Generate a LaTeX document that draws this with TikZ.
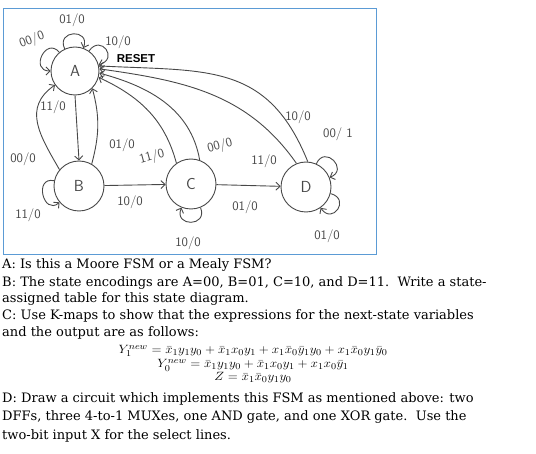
\documentclass[tikz,border=0pt]{standalone}
\usepackage{fontspec}
\setmainfont{DejaVu Serif}
\newfontfamily\resetfont{Liberation Sans}
\usetikzlibrary{arrows.meta}
\definecolor{framebl}{RGB}{91,155,213}
\definecolor{pencil}{RGB}{72,72,72}
\begin{document}
\begin{tikzpicture}[x=1pt,y=1pt,
  st/.style={circle,draw=pencil,line width=0.9pt,minimum size=50pt,inner sep=0pt,
    font=\sffamily\fontsize{16}{16}\selectfont,text=pencil},
  lb/.style={font=\sffamily\fontsize{13}{13}\selectfont\addfontfeature{LetterSpace=10},
    text=pencil,inner sep=0pt},
  tr/.style={draw=pencil,line width=0.9pt,-{Straight Barb[length=4pt,width=8pt]}},
  lp/.style={tr,looseness=1,min distance=21pt},
  ln/.style={anchor=base west,inner sep=0pt,font=\fontsize{13}{15}\selectfont},
  eq/.style={anchor=base,inner sep=0pt,font=\fontsize{13}{14}\selectfont}]
 \useasboundingbox (0,0) rectangle (536,453);
 \draw[framebl,line width=0.8pt] (3,199) rectangle (376,445);
 % states
 \node[st,minimum size=48pt] (A) at (75,382) {A};
 \node[st] (B) at (79,267) {B};
 \node[st] (C) at (191,269) {C};
 \node[st] (D) at (306,266) {D};
 % self loops
 \draw[lp] (A) to[out=130,in=180] (A);
 \draw[lp] (A) to[out=115,in=70] (A);
 \draw[lp] (A) to[out=55,in=15] (A);
 \draw[lp] (B) to[out=168,in=220] (B);
 \draw[lp] (C) to[out=-68,in=-112] (C);
 \draw[lp] (D) to[out=66,in=22] (D);
 \draw[lp] (D) to[out=-15,in=-55] (D);
 % transitions
 \draw[tr] (A.south) -- (B.north);
 \draw[tr] (B.140) to[out=120,in=215,looseness=1.2] (A.215);
 \draw[tr] (B.60) to[out=75,in=-75] (A.-45);
 \draw[tr] (B) -- (C);
 \draw[tr] (C) -- (D);
 \draw[tr] (C.125) to[out=105,in=-25] (A.-15);
 \draw[tr] (C.70) to[out=100,in=-15] (A.-5);
 \draw[tr] (D.112) to[out=125,in=-8] (A.5);
 \draw[tr] (D.86) to[out=112,in=-3,looseness=1.2] (A.12);
 % hand labels
 \foreach \x/\y/\r/\t [count=\i] in {72/433/0/{01/0}, 32/413/20/{00/0}, 118/411/0/{10/0},
   53/346/0/{11/0}, 298/336/0/{10/0}, 338/319/0/{00/ 1}, 122/308/0/{01/0},
   23/294/0/{00/0}, 152/296/15/{11/0}, 220/307/15/{00/0}, 264/292/0/{11/0},
   28/238/0/{11/0}, 130/251/0/{10/0}, 245/246/0/{01/0}, 188/210/0/{10/0}, 327/217/0/{01/0}}
   \node[lb,rotate=\r] (l\i) at (\x,\y) {\t};
 \node[font=\resetfont\bfseries\fontsize{11.5}{12}\selectfont,inner sep=0pt] (rst) at (136,394) {RESET};
 % questions
 \node[ln] (qa) at (2,184) {A: Is this a Moore FSM or a Mealy FSM?};
 \node[ln] (qb) at (2,166) {B: The state encodings are A=00, B=01, C=10, and D=11.\ \ Write a state-};
 \node[ln] (qb2) at (2,150) {assigned table for this state diagram.};
 \node[ln] (qc) at (2,133) {C: Use K-maps to show that the expressions for the next-state variables};
 \node[ln] (qc2) at (2,116) {and the output are as follows:};
 \node[eq] (y1) at (253,99.5) {\scalebox{1.1}[1]{$Y_1^{new} = \bar{x}_1y_1y_0 + \bar{x}_1x_0y_1 + x_1\bar{x}_0\bar{y}_1y_0 + x_1\bar{x}_0y_1\bar{y}_0$}};
 \node[eq] (y0) at (253,85) {\scalebox{1.1}[1]{$Y_0^{new} = \bar{x}_1y_1y_0 + \bar{x}_1x_0y_1 + x_1x_0\bar{y}_1$}};
 \node[eq] (z) at (253,72.5) {\scalebox{1.1}[1]{$Z = \bar{x}_1\bar{x}_0y_1y_0$}};
 \node[ln] (qd) at (2,50) {D: Draw a circuit which implements this FSM as mentioned above: two};
 \node[ln] (qd2) at (2,32) {DFFs, three 4-to-1 MUXes, one AND gate, and one XOR gate.\ \ Use the};
 \node[ln] (qd3) at (2,14) {two-bit input X for the select lines.};
\end{tikzpicture}
\end{document}
